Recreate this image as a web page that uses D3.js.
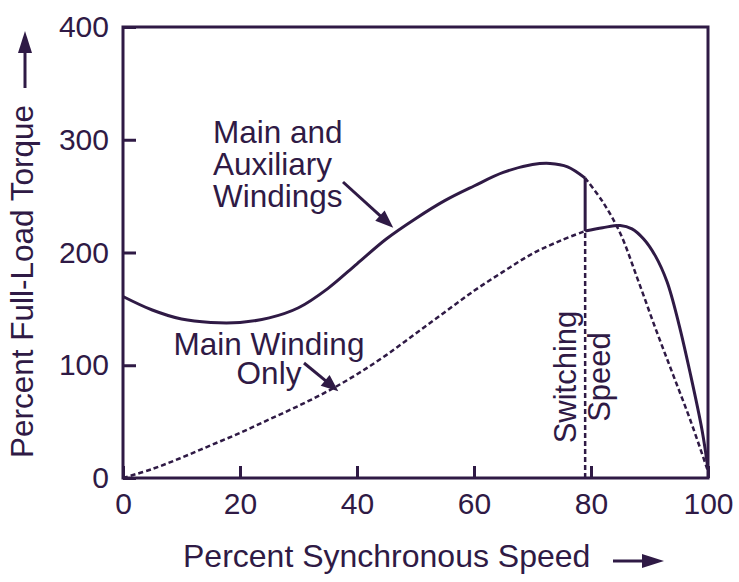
<!DOCTYPE html>
<html>
<head>
<meta charset="utf-8">
<script src="https://cdn.jsdelivr.net/npm/d3@7"></script>
<style>
  body { margin: 0; background: #fff; }
  text { font-family: "Liberation Sans", Arial, sans-serif; fill: #2f1a45; }
</style>
</head>
<body>
<svg id="chart" width="739" height="582"></svg>
<script>
// curve values (percent sync speed -> percent full-load torque)
const auxSpeed = [0, 5, 10, 15, 20, 25, 30, 35, 40, 45, 50, 55, 60, 65, 70, 73, 76, 79];
const auxTorque = [161, 149, 141, 138, 138, 142, 151, 168, 190, 212, 230, 246, 259, 271, 278, 279, 276, 266];

const auxTailSpeed = [79, 82, 85, 88, 91, 94, 97, 100];
const auxTailTorque = [266, 245, 217, 176, 133, 92, 51, 6];

const mainSpeed = [0, 5, 10, 15, 20, 25, 30, 35, 40, 45, 50, 55, 60, 65, 70, 75, 79];
const mainTorque = [0, 8, 18, 29, 40, 52, 64, 77, 92, 109, 128, 147, 166, 183, 199, 211, 219];

const mainTailSpeed = [79, 82, 85, 87, 89, 91, 93, 95, 97, 99, 100];
const mainTailTorque = [219, 222, 224, 221, 212, 197, 174, 137, 92, 42, 8];

const switchSpeed = 79;
const xTicks = [0, 20, 40, 60, 80, 100];
const yTicks = [0, 100, 200, 300, 400];

const ink = '#2f1a45';
const svg = d3.select('#chart');

const plotLeft = 123, plotRight = 708, plotTop = 27, plotBottom = 478;
const x = d3.scaleLinear().domain([0, 100]).range([plotLeft, plotRight]);
const y = d3.scaleLinear().domain([0, 400]).range([plotBottom, plotTop]);

const zip = (xs, ys) => xs.map((v, i) => [v, ys[i]]);
const line = d3.line().x(d => x(d[0])).y(d => y(d[1])).curve(d3.curveCatmullRom.alpha(0.5));

// axes with inward ticks
const xAxis = svg.append('g')
  .attr('transform', `translate(0,${plotBottom})`)
  .call(d3.axisBottom(x).tickValues(xTicks).tickSizeInner(-12).tickSizeOuter(0).tickPadding(15));
const yAxis = svg.append('g')
  .attr('transform', `translate(${plotLeft},0)`)
  .call(d3.axisLeft(y).tickValues(yTicks).tickSizeInner(-13).tickSizeOuter(0).tickPadding(14));

[xAxis, yAxis].forEach(a => {
  a.select('.domain').remove();
  a.selectAll('line').attr('stroke', ink).attr('stroke-width', 3);
  a.selectAll('text').style('font-size', '30px').attr('fill', ink);
});

// plot frame
svg.append('rect')
  .attr('x', plotLeft).attr('y', plotTop)
  .attr('width', plotRight - plotLeft).attr('height', plotBottom - plotTop)
  .attr('fill', 'none').attr('stroke', ink).attr('stroke-width', 3);

const curves = svg.append('g').attr('fill', 'none').attr('stroke', ink);

// switching speed marker
curves.append('line')
  .attr('x1', x(switchSpeed)).attr('x2', x(switchSpeed))
  .attr('y1', y(0)).attr('y2', y(mainTailTorque[0]))
  .attr('stroke-width', 2.5).attr('stroke-dasharray', '5,3');
curves.append('line')
  .attr('x1', x(switchSpeed)).attr('x2', x(switchSpeed))
  .attr('y1', y(mainTailTorque[0])).attr('y2', y(auxTorque[auxTorque.length - 1]))
  .attr('stroke-width', 3);

curves.append('path').attr('d', line(zip(auxSpeed, auxTorque))).attr('stroke-width', 3);
curves.append('path').attr('d', line(zip(auxTailSpeed, auxTailTorque)))
  .attr('stroke-width', 2.5).attr('stroke-dasharray', '5,3');
curves.append('path').attr('d', line(zip(mainSpeed, mainTorque)))
  .attr('stroke-width', 2.5).attr('stroke-dasharray', '5,3');
curves.append('path').attr('d', line(zip(mainTailSpeed, mainTailTorque))).attr('stroke-width', 3);

// arrow helper: shaft from (x1,y1) to tip (x2,y2)
function arrow(x1, y1, x2, y2, head = 18, half = 7) {
  const dx = x2 - x1, dy = y2 - y1, len = Math.hypot(dx, dy);
  const ux = dx / len, uy = dy / len;
  const bx = x2 - ux * head, by = y2 - uy * head;
  svg.append('line')
    .attr('x1', x1).attr('y1', y1).attr('x2', bx + ux * 2).attr('y2', by + uy * 2)
    .attr('stroke', ink).attr('stroke-width', 3);
  svg.append('path')
    .attr('d', `M${x2},${y2}L${bx - uy * half},${by + ux * half}L${bx + uy * half},${by - ux * half}Z`)
    .attr('fill', ink);
}

// multi-line label as one text element
function label(parent, xPos, yPos, lines, step, anchor = 'start') {
  const t = parent.append('text').attr('x', xPos).attr('y', yPos).attr('text-anchor', anchor);
  lines.forEach((s, i) => {
    t.append('tspan').attr('x', xPos).attr('dy', i === 0 ? 0 : step).text(s);
  });
  return t;
}

// annotations
const note = svg.append('g').style('font-size', '31.5px');
label(note, 213, 143, ['Main and', 'Auxiliary', 'Windings'], 32);
arrow(343, 182, x(46.2), y(222));

label(note, 269, 355, ['Main Winding', 'Only'], 29, 'middle');
arrow(304, 363, x(36.8), y(77), 17, 7);

const sw = note.append('g')
  .attr('transform', `translate(${x(switchSpeed)},377) rotate(-90)`)
  .style('font-size', '31px');
label(sw, 0, -9, ['Switching', 'Speed'], 34, 'middle');

// axis titles with arrows
svg.append('text')
  .attr('x', 183).attr('y', 567)
  .style('font-size', '32px')
  .text('Percent Synchronous Speed');
arrow(613, 561, 664, 561, 22, 7);

svg.append('text')
  .attr('transform', 'translate(33,458) rotate(-90)')
  .style('font-size', '31.5px')
  .text('Percent Full-Load Torque');
arrow(25, 88, 25, 31, 22, 7);
</script>
</body>
</html>
